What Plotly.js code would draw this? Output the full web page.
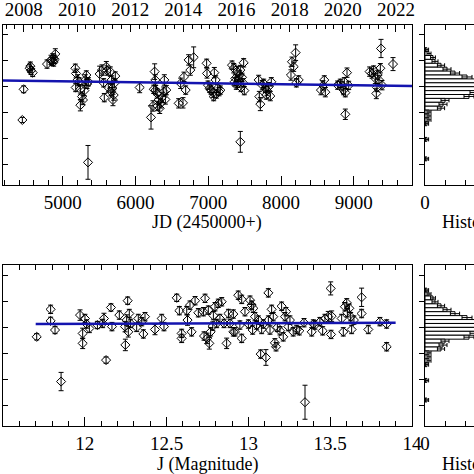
<!DOCTYPE html>
<html>
<head>
<meta charset="utf-8">
<script src="https://cdn.plot.ly/plotly-3.0.1.min.js"></script>
<style>html,body{margin:0;padding:0;background:#fff;}#chart{width:474px;height:474px;}</style>
</head>
<body>
<div id="chart"></div>
<script>
// ---- Top panel: residual vs JD ----
const jd = [4464,4446,4547,4565,4588,4556,4785,4840,4867,4876,4899,4853,4890,
5174,5183,5179,5206,5224,5243,5243,5266,5279,5298,5311,5325,5334,5353,5348,
5508,5540,5563,5572,5600,5609,5627,5655,5673,5682,5701,5691,5710,5723,5664,
6058,
6214,6241,6264,6273,6278,6296,6319,6333,6347,6365,6388,6397,6411,6424,6305,6251,
6594,6621,6653,6667,6690,6731,6754,6800,
6978,6983,6997,7020,7038,7066,7084,7102,7111,7130,7148,7166,7075,
7327,7350,7372,7395,7404,7418,7432,7441,7450,7464,7478,7487,7496,7441,7386,7363,
7693,7702,7716,7743,7762,7785,7808,7830,7853,7867,7798,
8137,8151,8174,8201,8211,8243,
8549,8577,8595,8609,
8778,8815,8838,8861,8884,8907,8884,8930,8870,
9218,9250,9273,9296,9310,9328,9346,9365,9374,9388,9319,
9539];
const resJD = [-0.010,-0.128,0.071,0.062,0.054,0.079,0.087,0.103,0.109,0.095,0.126,0.097,0.105,
0.071,0.051,-0.003,0.026,0.019,-0.010,-0.071,-0.038,-0.051,-0.015,0.026,0.045,0.010,0.019,-0.291,
0.049,0.064,0.015,-0.042,0.077,0.062,-0.003,0.058,0.026,-0.006,-0.032,-0.051,0.013,0.041,-0.019,
-0.003,
-0.118,-0.074,0.058,0.026,-0.013,-0.026,-0.051,-0.083,-0.064,-0.041,-0.019,0.026,-0.049,-0.013,-0.074,-0.010,
-0.064,0.013,-0.062,0.038,-0.013,0.103,0.064,0.113,
0.090,0.051,0.006,-0.006,-0.013,-0.023,0.054,0.026,-0.028,-0.006,-0.019,-0.013,-0.038,
0.083,0.071,0.032,0.058,0.013,0.026,0.045,0.064,-0.003,0.036,0.015,0.092,-0.015,-0.212,0.006,0.019,
0.026,-0.038,-0.067,0.006,0.013,-0.006,-0.015,0.000,-0.036,0.019,-0.032,
0.045,0.096,0.077,0.131,0.015,0.026,
-0.013,0.005,0.026,-0.021,
0.006,0.013,0.003,-0.013,-0.023,0.054,-0.106,0.005,0.019,
0.058,0.051,0.064,0.032,-0.026,0.045,0.026,0.071,0.147,0.006,-0.003,
0.087];
const errJD = [0.013,0.010,0.016,0.015,0.015,0.016,0.016,0.018,0.018,0.016,0.020,0.016,0.016,
0.016,0.017,0.016,0.020,0.016,0.018,0.022,0.018,0.018,0.020,0.020,0.016,0.017,0.016,0.065,
0.030,0.020,0.016,0.016,0.020,0.018,0.018,0.018,0.016,0.018,0.020,0.022,0.018,0.016,0.016,
0.020,
0.045,0.020,0.030,0.020,0.018,0.018,0.018,0.020,0.018,0.020,0.018,0.020,0.018,0.018,0.018,0.016,
0.018,0.020,0.020,0.018,0.016,0.020,0.020,0.040,
0.016,0.018,0.016,0.016,0.016,0.018,0.020,0.016,0.016,0.016,0.016,0.016,0.016,
0.016,0.018,0.016,0.020,0.016,0.016,0.018,0.018,0.016,0.016,0.016,0.016,0.016,0.040,0.016,0.016,
0.018,0.020,0.025,0.018,0.016,0.016,0.018,0.016,0.018,0.016,0.016,
0.020,0.018,0.018,0.030,0.016,0.016,
0.018,0.018,0.016,0.018,
0.016,0.016,0.016,0.018,0.016,0.018,0.020,0.016,0.016,
0.018,0.018,0.016,0.020,0.020,0.018,0.018,0.018,0.035,0.018,0.016,
0.025];
const fitJD = [4180, 9800];
const fitJDres = [0.024, 0.003];

// ---- Bottom panel: residual vs J magnitude ----
const jMag = [11.706,11.791,11.791,11.818,11.855,11.971,11.987,11.987,12.001,12.011,12.028,12.077,12.109,12.117,12.130,12.160,12.166,12.211,12.246,12.248,12.256,12.262,12.266,12.272,12.280,12.317,12.327,12.348,12.358,12.368,12.429,12.470,12.484,12.562,12.578,12.592,12.592,12.623,12.628,12.643,12.653,12.674,12.694,12.725,12.729,12.735,12.747,12.755,12.761,12.769,12.782,12.786,12.796,12.806,12.816,12.826,12.837,12.851,12.867,12.878,12.888,12.908,12.908,
12.938,12.959,12.948,12.959,12.918,12.979,13.000,13.010,13.020,13.026,13.030,13.040,13.050,13.061,13.075,13.081,13.091,13.107,13.122,13.122,13.132,13.142,13.152,13.162,13.169,13.177,13.193,13.203,13.213,13.224,13.230,13.244,13.254,13.274,13.295,13.311,13.340,13.346,13.387,13.397,13.407,13.437,13.454,13.468,13.488,13.503,13.505,13.509,13.570,13.580,13.590,13.601,13.605,13.617,13.625,13.631,13.645,13.692,13.692,13.733,13.804,13.845,13.845];
const resJ = [-0.036,0.069,0.025,-0.010,-0.207,0.047,-0.023,-0.061,0.034,0.013,-0.004,0.009,0.015,0.034,-0.125,0.076,0.003,0.047,0.003,-0.067,0.028,0.102,-0.017,0.053,0.015,0.000,0.034,0.022,-0.025,0.041,-0.008,0.034,0.003,0.113,0.064,-0.023,-0.042,0.064,0.028,0.085,-0.017,0.102,0.056,0.060,-0.033,0.111,-0.042,0.066,-0.061,-0.017,0.005,0.045,0.079,0.015,0.092,0.034,0.098,0.015,-0.061,0.053,0.015,-0.017,0.051,
0.123,0.107,0.009,-0.042,-0.017,0.060,0.013,0.104,0.085,-0.010,0.073,0.041,0.009,0.028,-0.102,-0.008,0.013,-0.115,0.132,0.028,-0.010,0.069,0.041,-0.059,-0.074,0.000,-0.013,0.081,-0.036,0.041,0.060,0.003,0.028,-0.017,-0.008,-0.013,0.018,-0.286,-0.017,0.013,0.009,0.022,-0.013,0.034,0.041,0.149,-0.027,0.043,0.034,-0.017,0.079,0.094,0.056,0.073,0.041,-0.008,0.028,0.115,0.053,-0.008,0.022,0.013,-0.074];
const errJ = [0.012,0.016,0.014,0.014,0.035,0.020,0.020,0.020,0.016,0.016,
0.016,0.014,0.016,0.020,0.012,0.014,0.016,0.016,0.020,0.022,
0.020,0.014,0.020,0.016,0.016,0.016,0.016,0.016,0.016,0.016,
0.020,0.016,0.016,0.014,0.016,0.016,0.016,0.016,0.020,0.016,
0.016,0.016,0.016,0.016,0.016,0.016,0.020,0.016,0.022,0.016,
0.016,0.016,0.016,0.016,0.016,0.016,0.016,0.016,0.020,0.016,
0.016,0.016,0.016,
0.016,0.016,0.016,0.016,0.016,0.016,0.016,
0.016,0.016,0.016,0.016,0.016,0.016,0.016,0.016,0.016,0.016,
0.030,0.016,0.016,0.016,0.016,0.016,0.016,0.016,0.016,0.016,
0.016,0.016,0.016,0.016,0.016,0.016,0.016,0.016,0.016,0.016,
0.065,0.016,0.016,0.016,0.016,0.016,0.016,0.020,0.025,0.016,
0.020,0.016,0.016,0.016,0.016,0.016,0.016,0.016,0.016,0.016,
0.035,0.016,0.016,0.016,0.016,0.016];
const fitJ = [11.70, 13.90];
const fitJres = [0.013, 0.018];

// ---- Histogram of residuals (bin centres, counts) ----
const histBin = [0.1425,0.1275,0.1125,0.0975,0.0825,0.0675,0.0525,0.0375,0.0225,0.0075,-0.0075,-0.0225,-0.0375,-0.0525,-0.0675,-0.0825,-0.0975,-0.1125,-0.1275,-0.1425,-0.2025,-0.2775];
const histCount = [1,2,4,5,8,11,15,21,30,35,30,25,22,10,9,8,2,2,2,1,1,1];
const histErr = [0.8,1,1.2,1.5,1.8,2,2.3,2.5,3,3,3,2.5,2.5,2,2,1.8,1,1,1,0.8,0.8,0.8];

const jdRange = [4180, 9800];
const yearRange = jdRange.map(j => 2000 + (j - 1544.5) / 365.25);
const jRange = [11.5, 14.0];
const resRange = [-0.378, 0.2373];
const histRange = [0, 24.5];

const FONT = 'Liberation Serif';
const pts = (x, y, e, xa, ya) => ({
  type: 'scatter', mode: 'markers', x: x, y: y, xaxis: xa, yaxis: ya,
  marker: {symbol: 'diamond-open', size: 7, color: '#000', line: {width: 1, color: '#000'}},
  error_y: {type: 'data', array: e, visible: true, color: '#000', thickness: 1, width: 2.5},
  showlegend: false, hoverinfo: 'skip'
});
const fit = (x, y, xa, ya) => ({
  type: 'scatter', mode: 'lines', x: x, y: y, xaxis: xa, yaxis: ya,
  line: {color: 'rgb(20,20,175)', width: 2.6}, showlegend: false, hoverinfo: 'skip'
});
const hist = (xa, ya) => ({
  type: 'bar', orientation: 'h', y: histBin, x: histCount, width: 0.015,
  xaxis: xa, yaxis: ya,
  marker: {color: 'rgba(255,255,255,1)', line: {color: '#000', width: 1}},
  error_x: {type: 'data', array: histErr, visible: true, color: '#000', thickness: 1, width: 2},
  showlegend: false, hoverinfo: 'skip'
});

const data = [
  pts(jd, resJD, errJD, 'x', 'y'),
  fit(fitJD, fitJDres, 'x', 'y'),
  {type: 'scatter', mode: 'markers', x: yearRange, y: [null, null], xaxis: 'x2', yaxis: 'y', showlegend: false, hoverinfo: 'skip'},
  hist('x3', 'y3'),
  pts(jMag, resJ, errJ, 'x4', 'y4'),
  fit(fitJ, fitJres, 'x4', 'y4'),
  {type: 'scatter', mode: 'markers', x: jRange, y: [null, null], xaxis: 'x6', yaxis: 'y4', showlegend: false, hoverinfo: 'skip'},
  hist('x5', 'y5')
];

const tf = {family: FONT, size: 19, color: '#000'};
const base = {showline: true, linecolor: '#000', linewidth: 1, showgrid: false, zeroline: false,
  tickcolor: '#000', tickwidth: 1, tickfont: tf, tickformat: 'd'};
const mainX = [3/474, 412/474];
const histX = [425/474, 1];
const topY = [1 - 185/474, 1 - 25/474];
const botY = [1 - 426.3/474, 1 - 265.3/474];

const layout = {
  width: 474, height: 474,
  margin: {l: 0, r: 0, t: 0, b: 0, pad: 0},
  paper_bgcolor: '#fff', plot_bgcolor: '#fff',
  font: {family: FONT, color: '#000'},
  bargap: 0,
  xaxis: Object.assign({}, base, {domain: mainX, anchor: 'y', range: jdRange, tick0: 0, dtick: 1000,
    ticks: 'inside', ticklen: 9, minor: {dtick: 200, tick0: 0, ticks: 'inside', ticklen: 5, tickcolor: '#000'},
    mirror: false}),
  xaxis2: Object.assign({}, base, {overlaying: 'x', side: 'top', anchor: 'y', range: yearRange,
    tick0: 2008, dtick: 2, ticks: 'inside', ticklen: 7,
    minor: {dtick: 1/3, tick0: 2008, ticks: 'inside', ticklen: 4, tickcolor: '#000'}}),
  yaxis: Object.assign({}, base, {domain: topY, anchor: 'x', range: resRange, tick0: 0, dtick: 0.1,
    ticks: 'inside', ticklen: 5, showticklabels: false, mirror: true, tickformat: ''}),
  xaxis3: Object.assign({}, base, {domain: histX, anchor: 'y3', range: histRange, tick0: 0, dtick: 20,
    ticks: 'inside', ticklen: 5, mirror: 'allticks',
    minor: {dtick: 10, tick0: 0, ticks: 'inside', ticklen: 5, tickcolor: '#000'}}),
  yaxis3: Object.assign({}, base, {domain: topY, anchor: 'x3', range: resRange, tick0: 0, dtick: 0.1,
    ticks: 'outside', ticklen: 5, showticklabels: false, mirror: false, tickformat: ''}),
  xaxis4: Object.assign({}, base, {domain: mainX, anchor: 'y4', range: jRange, tick0: 0, dtick: 0.5,
    ticks: 'inside', ticklen: 9, minor: {dtick: 0.1, tick0: 0, ticks: 'inside', ticklen: 5, tickcolor: '#000'},
    mirror: false, tickformat: ''}),
  xaxis6: Object.assign({}, base, {overlaying: 'x4', side: 'top', anchor: 'y4', range: jRange, tick0: 0, dtick: 0.1,
    ticks: 'inside', ticklen: 5, showticklabels: false, tickformat: ''}),
  yaxis4: Object.assign({}, base, {domain: botY, anchor: 'x4', range: resRange, tick0: 0, dtick: 0.1,
    ticks: 'inside', ticklen: 5, showticklabels: false, mirror: true, tickformat: ''}),
  xaxis5: Object.assign({}, base, {domain: histX, anchor: 'y5', range: histRange, tick0: 0, dtick: 20,
    ticks: 'inside', ticklen: 5, mirror: 'allticks',
    minor: {dtick: 10, tick0: 0, ticks: 'inside', ticklen: 5, tickcolor: '#000'}}),
  yaxis5: Object.assign({}, base, {domain: botY, anchor: 'x5', range: resRange, tick0: 0, dtick: 0.1,
    ticks: 'outside', ticklen: 5, showticklabels: false, mirror: false, tickformat: ''}),
  annotations: [
    {text: 'JD (2450000+)', xref: 'paper', yref: 'paper', x: 207/474, y: 1 - 222/474, xanchor: 'center', yanchor: 'middle', showarrow: false, font: {family: FONT, size: 18, color: '#000'}},
    {text: 'Histogram', xref: 'paper', yref: 'paper', x: 440/474, y: 1 - 222/474, xanchor: 'left', yanchor: 'middle', showarrow: false, font: {family: FONT, size: 18, color: '#000'}},
    {text: 'J (Magnitude)', xref: 'paper', yref: 'paper', x: 207/474, y: 1 - 464/474, xanchor: 'center', yanchor: 'middle', showarrow: false, font: {family: FONT, size: 18, color: '#000'}},
    {text: 'Histogram', xref: 'paper', yref: 'paper', x: 440/474, y: 1 - 464/474, xanchor: 'left', yanchor: 'middle', showarrow: false, font: {family: FONT, size: 18, color: '#000'}}
  ]
};

Plotly.newPlot('chart', data, layout, {staticPlot: true, displayModeBar: false});
</script>
</body>
</html>
